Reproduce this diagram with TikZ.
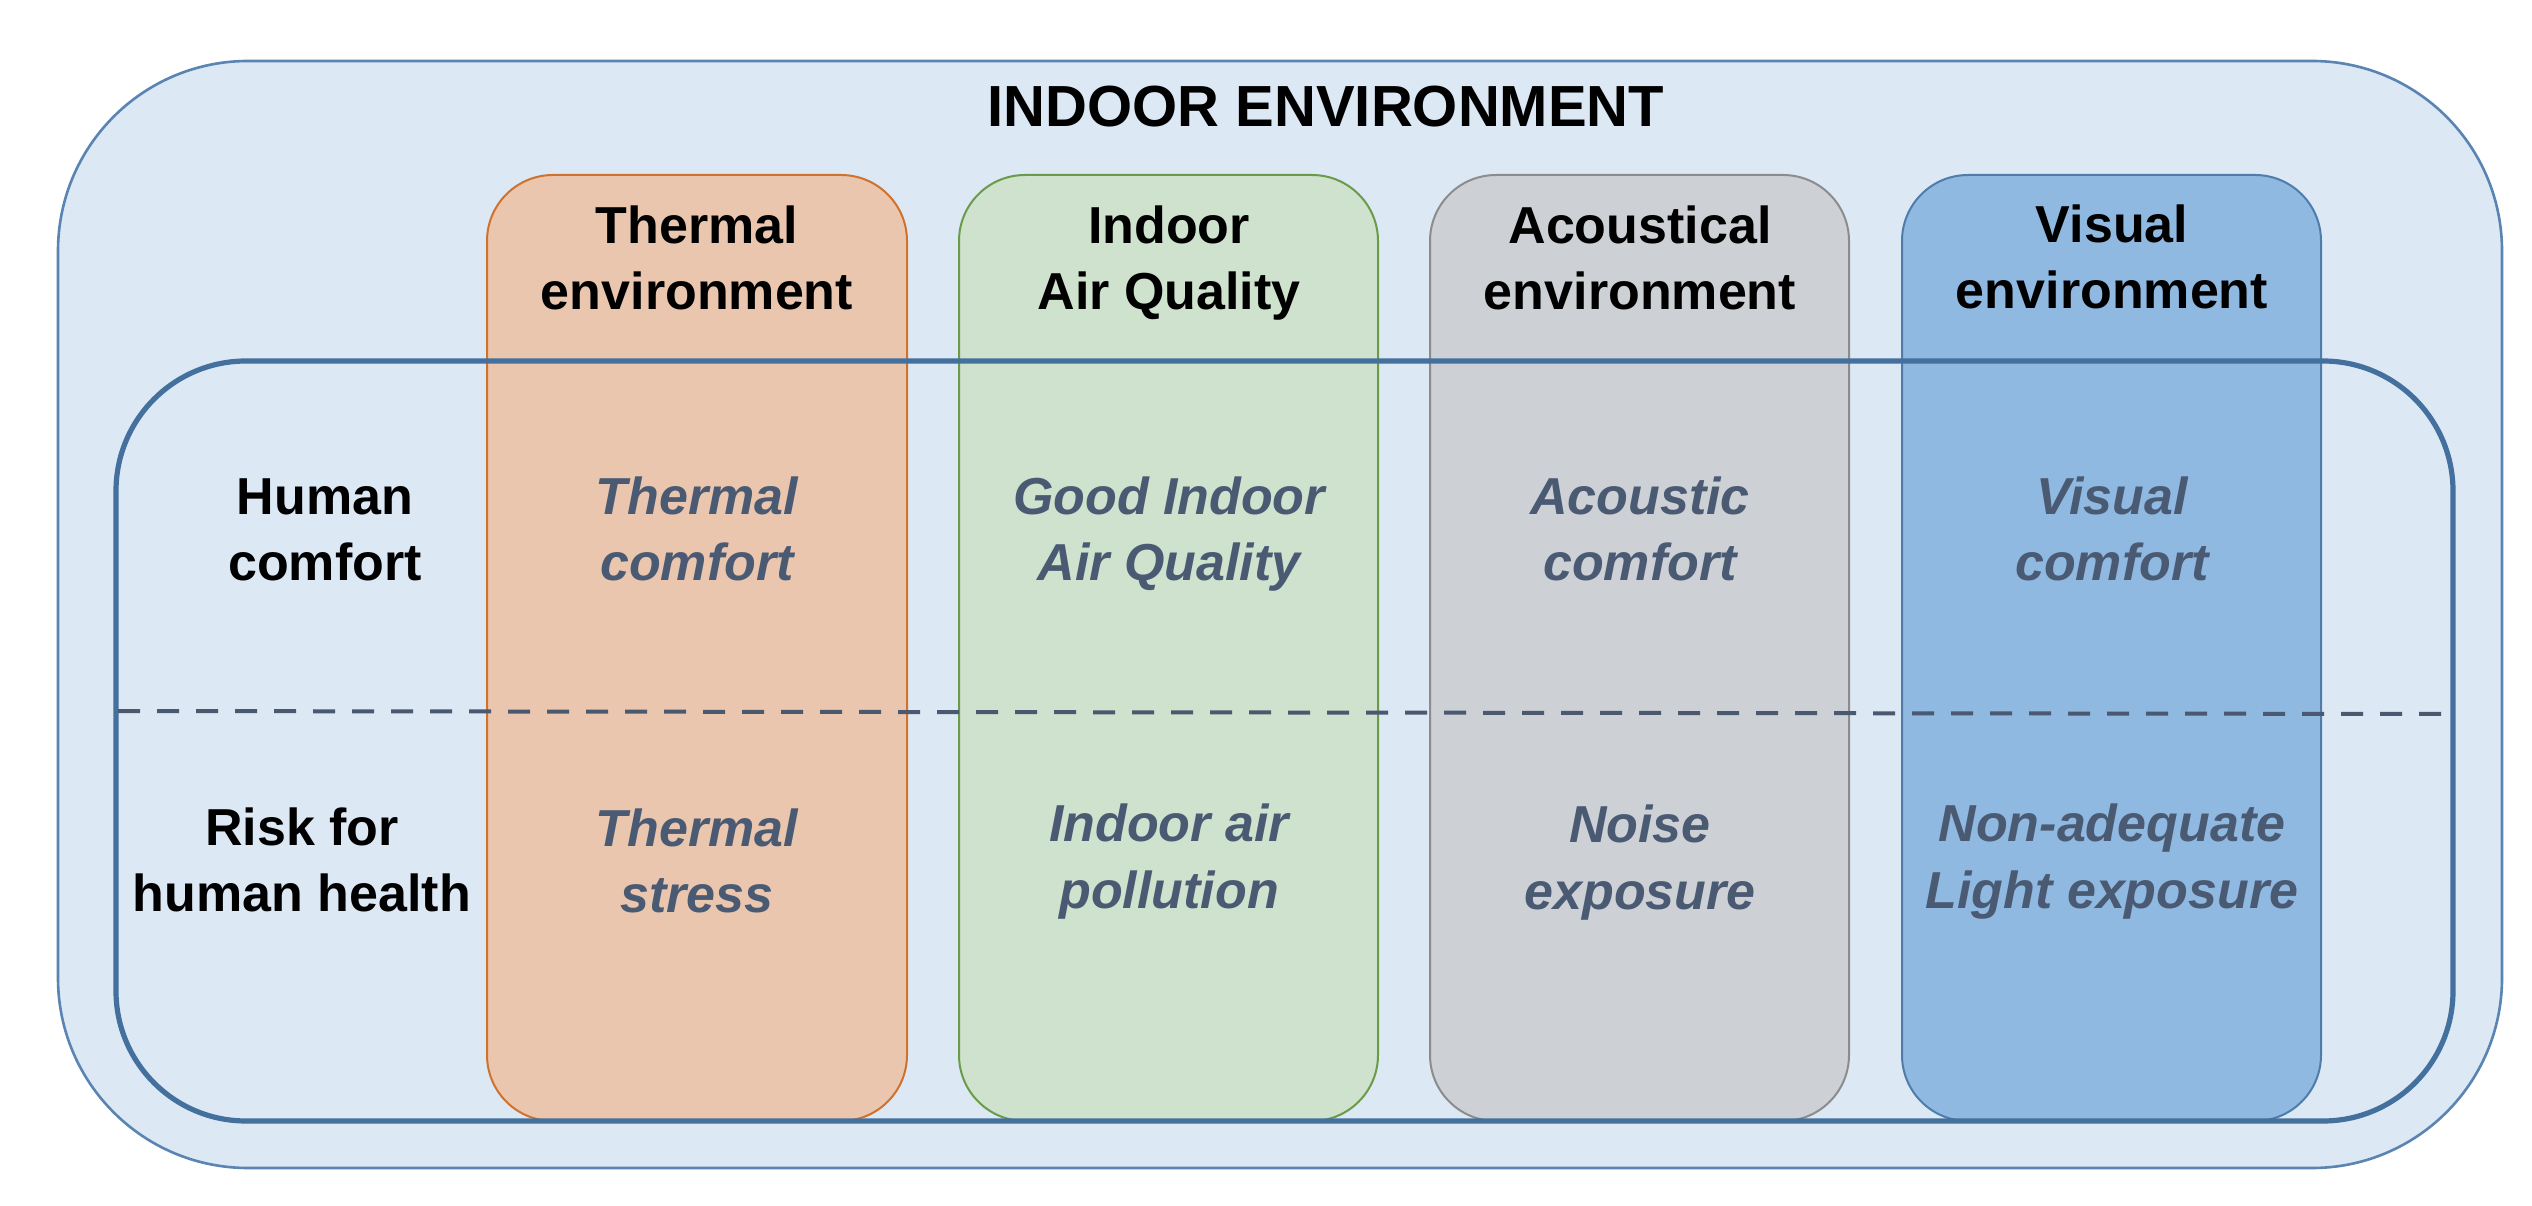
\documentclass[tikz,border=0pt]{standalone}
\usepackage{fontspec}
\setmainfont{Liberation Sans}
\definecolor{outerfill}{HTML}{DDE8F5}
\definecolor{outerdraw}{HTML}{5A84B2}
\definecolor{innerdraw}{HTML}{44709E}
\definecolor{thermfill}{HTML}{EAC6AF}
\definecolor{thermdraw}{HTML}{D0712C}
\definecolor{iaqfill}{HTML}{CFE2CE}
\definecolor{iaqdraw}{HTML}{6B9A48}
\definecolor{acoufill}{HTML}{CDD1D6}
\definecolor{acoudraw}{HTML}{8C8C8C}
\definecolor{visfill}{HTML}{8FB9E1}
\definecolor{visdraw}{HTML}{4F7CAB}
\definecolor{dashcol}{HTML}{4A5870}
\definecolor{itcol}{HTML}{4A5A73}
\begin{document}
\begin{tikzpicture}[x=0.5bp,y=-0.5bp,
  outerbox/.style={draw=outerdraw,fill=outerfill,line width=1.3bp,rounded corners=95bp},
  colbox/.style={line width=1bp,rounded corners=33bp},
  innerbox/.style={draw=innerdraw,line width=2.6bp,rounded corners=65bp},
  dashline/.style={draw=dashcol,line width=2bp,dash pattern=on 11bp off 8.5bp},
  titletext/.style={font=\bfseries\fontsize{29bp}{35bp}\selectfont,anchor=base,inner sep=0pt},
  headtext/.style={font=\bfseries\fontsize{26bp}{33bp}\selectfont,align=center,anchor=base,inner sep=0pt},
  celltext/.style={font=\bfseries\itshape\fontsize{26bp}{33bp}\selectfont,text=itcol,align=center,anchor=base,inner sep=0pt},
  rowtext/.style={font=\bfseries\fontsize{26bp}{33bp}\selectfont,align=center,anchor=base,inner sep=0pt}]
\useasboundingbox (0,0) rectangle (2532,1206);
\fill[white] (0,0) rectangle (2532,1206);
% outer environment box
\draw[outerbox] (58,61) rectangle (2502,1168);
% columns
\draw[colbox,draw=thermdraw,fill=thermfill] (487,175) rectangle (907,1121);
\draw[colbox,draw=iaqdraw,fill=iaqfill] (959,175) rectangle (1378,1121);
\draw[colbox,draw=acoudraw,fill=acoufill] (1430,175) rectangle (1849,1121);
\draw[colbox,draw=visdraw,fill=visfill] (1902,175) rectangle (2321,1121);
% inner box
\draw[innerbox] (116,361) rectangle (2453,1121);
% dashed separator
\coordinate (dL) at (118,711);
\coordinate (dR) at (2451,714);
\draw[dashline] (dL) -- (dR);
% title
\node[titletext] (title) at (1326,127) {INDOOR ENVIRONMENT};
% headers (anchor = baseline of last line)
\node[headtext] (hT) at (697,310) {Thermal\\environment};
\node[headtext] (hI) at (1169,310) {Indoor\\Air Quality};
\node[headtext] (hA) at (1640,310) {Acoustical\\environment};
\node[headtext] (hV) at (2112,309) {Visual\\environment};
% row labels
\node[rowtext] (rC) at (325,581) {Human\\comfort};
\node[rowtext] (rR) at (302,911) {Risk for\\human health};
% cells row 1
\node[celltext] (c1T) at (697,581) {Thermal\\comfort};
\node[celltext] (c1I) at (1169,581) {Good Indoor\\Air Quality};
\node[celltext] (c1A) at (1640,581) {Acoustic\\comfort};
\node[celltext] (c1V) at (2112,581) {Visual\\comfort};
% cells row 2
\node[celltext] (c2T) at (697,912) {Thermal\\stress};
\node[celltext] (c2I) at (1169,908) {Indoor air\\pollution};
\node[celltext] (c2A) at (1640,909) {Noise\\exposure};
\node[celltext] (c2V) at (2112,908) {Non-adequate\\Light exposure};
\end{tikzpicture}
\end{document}
